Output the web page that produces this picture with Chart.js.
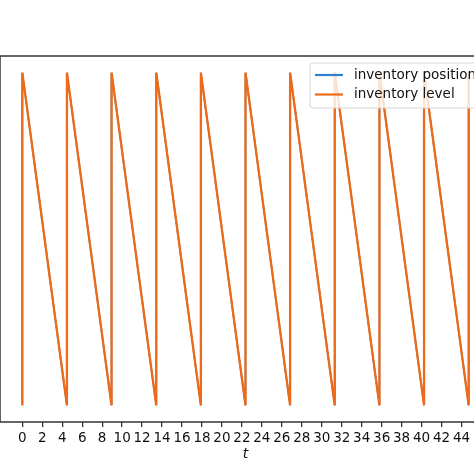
<!DOCTYPE html>
<html>
<head>
<meta charset="utf-8">
<script src="https://cdn.jsdelivr.net/npm/chart.js@4/dist/chart.umd.min.js"></script>
<style>
  html, body { margin: 0; padding: 0; overflow: hidden; background: #fff; }
  #wrap { width: 474px; height: 474px; overflow: hidden; }
  canvas { display: block; }
</style>
</head>
<body>
<div id="wrap"><canvas id="inventoryChart" width="500" height="474"></canvas></div>
<script>
// order times (reorder every ~4.47 time units), level drops to 0 then jumps to Q
const times = [0, 0, 4.47, 4.47, 8.94, 8.94, 13.42, 13.42, 17.89, 17.89, 22.36, 22.36,
               26.83, 26.83, 31.30, 31.30, 35.78, 35.78, 40.25, 40.25, 44.72, 44.72];
const inventoryLevel = [0, 100, 0, 100, 0, 100, 0, 100, 0, 100, 0, 100,
                        0, 100, 0, 100, 0, 100, 0, 100, 0, 100];
const inventoryPosition = [0, 100, 0, 100, 0, 100, 0, 100, 0, 100, 0, 100,
                           0, 100, 0, 100, 0, 100, 0, 100, 0, 100];
const xTicks = [0, 2, 4, 6, 8, 10, 12, 14, 16, 18, 20, 22, 24, 26, 28, 30, 32, 34, 36, 38, 40, 42, 44];
const seriesLabels = ["inventory position", "inventory level"];

const FONT = "'DejaVu Sans', sans-serif";

function toPoints(ys) {
    return times.map((t, i) => ({ x: t, y: ys[i] }));
}

// axes frame (spines) like matplotlib
const frame = {
    id: "frame",
    afterDatasetsDraw(chart) {
        const { ctx, chartArea: a } = chart;
        ctx.save();
        ctx.strokeStyle = "#333";
        ctx.lineWidth = 1.5;
        ctx.strokeRect(a.left, a.top, a.right - a.left, a.bottom - a.top);
        ctx.restore();
    }
};

// legend box in upper right corner, on top of the lines
const legendBox = {
    id: "legendBox",
    afterDatasetsDraw(chart) {
        const { ctx, chartArea: a } = chart;
        const x = 310, y = 63, w = a.right - 6 - 310, h = 45;
        ctx.save();
        ctx.beginPath();
        ctx.roundRect(x, y, w, h, 3);
        ctx.fillStyle = "rgba(255,255,255,0.8)";
        ctx.fill();
        ctx.strokeStyle = "#d6d6d6";
        ctx.lineWidth = 1;
        ctx.stroke();
        ctx.font = "13.5px " + FONT;
        ctx.textBaseline = "middle";
        chart.data.datasets.forEach((ds, i) => {
            const ly = 75 + i * 19.5;
            ctx.strokeStyle = ds.borderColor;
            ctx.lineWidth = 2.2;
            ctx.beginPath();
            ctx.moveTo(315, ly);
            ctx.lineTo(343, ly);
            ctx.stroke();
            ctx.fillStyle = "#111";
            ctx.fillText(ds.label, 354, ly);
        });
        ctx.restore();
    }
};

new Chart(document.getElementById("inventoryChart"), {
    type: "line",
    data: {
        datasets: [{
            label: seriesLabels[0],
            data: toPoints(inventoryPosition),
            borderColor: "#2f7fd0",
            borderWidth: 1.6,
            pointRadius: 0,
            tension: 0,
            order: 1
        }, {
            label: seriesLabels[1],
            data: toPoints(inventoryLevel),
            borderColor: "#ec6a18",
            borderWidth: 2.3,
            pointRadius: 0,
            tension: 0,
            order: 0
        }]
    },
    options: {
        responsive: false,
        animation: false,
        devicePixelRatio: 1,
        layout: { padding: { left: 0, top: 56, right: 9, bottom: 0 } },
        plugins: {
            legend: { display: false },
            tooltip: { enabled: false }
        },
        scales: {
            x: {
                type: "linear",
                min: -2.236,
                max: 46.956,
                afterBuildTicks: (scale) => { scale.ticks = xTicks.map(v => ({ value: v })); },
                afterFit: (scale) => { scale.height = 52; },
                grid: { drawOnChartArea: false, drawTicks: true, tickLength: 5, color: "#333", lineWidth: 1.3 },
                border: { display: false },
                ticks: {
                    autoSkip: false,
                    maxRotation: 0,
                    padding: 3,
                    color: "#111",
                    font: { family: FONT, size: 13.5 }
                },
                title: {
                    display: true,
                    text: "t",
                    color: "#111",
                    font: { family: FONT, size: 14, style: "italic" },
                    padding: { top: 0, bottom: 11 }
                }
            },
            y: {
                display: false,
                min: -5,
                max: 105
            }
        }
    },
    plugins: [frame, legendBox]
});
</script>
</body>
</html>
